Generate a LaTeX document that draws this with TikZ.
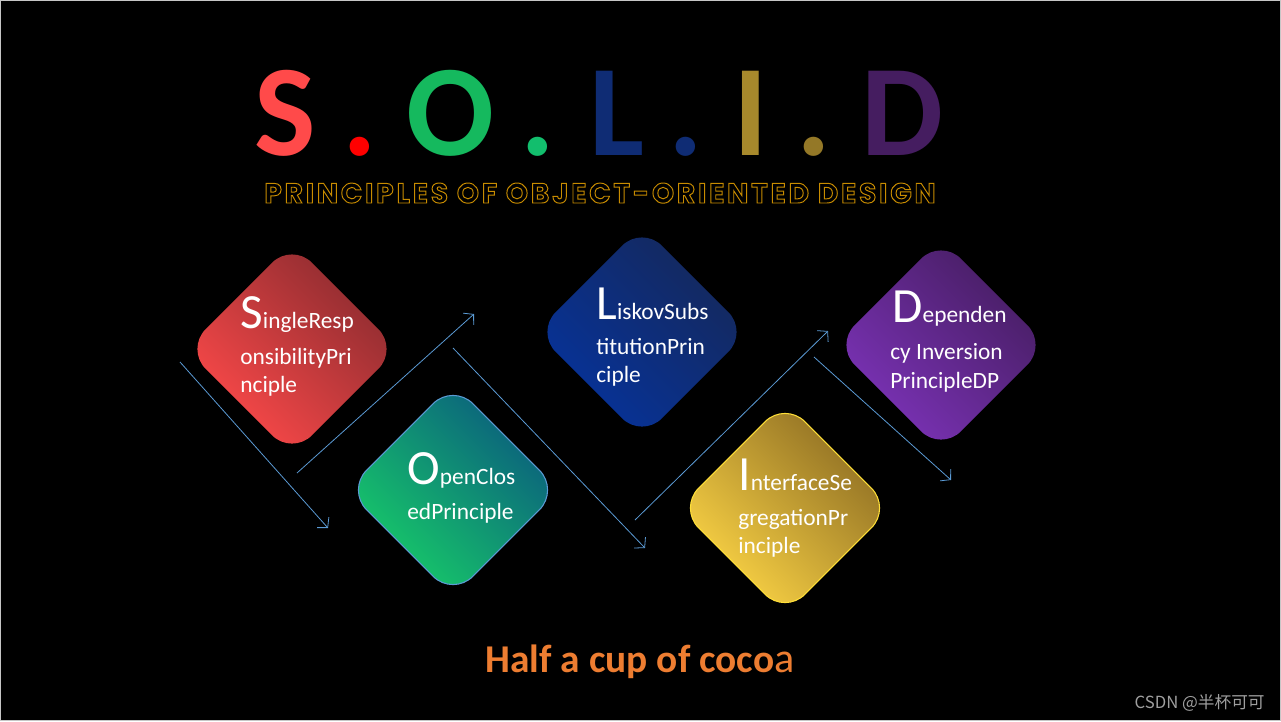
\documentclass[tikz,border=0pt]{standalone}
\usepackage{fontspec}
\setmainfont{Carlito}
\newfontfamily\designfont{Poppins}[LetterSpace=10]
\newfontfamily\cjkfont{Noto Sans CJK SC}
\usetikzlibrary{arrows.meta}

% colours of the five letters
\definecolor{sredlight}{HTML}{FF4A4A}
\definecolor{sreddark}{HTML}{8A2B2F}
\definecolor{ogreenlight}{HTML}{17CE68}
\definecolor{ogreendark}{HTML}{0A5A7E}
\definecolor{lbluelight}{HTML}{06339C}
\definecolor{lbluedark}{HTML}{15285A}
\definecolor{igoldlight}{HTML}{FFD746}
\definecolor{igolddark}{HTML}{8B6B22}
\definecolor{dpurplelight}{HTML}{7D33BA}
\definecolor{dpurpledark}{HTML}{451D60}
\definecolor{flowblue}{HTML}{5B9BD5}
\definecolor{subgold}{HTML}{C88C00}
\definecolor{cocoaorange}{HTML}{ED7D31}

\newcommand\bigletter{\fontsize{28}{28}\selectfont}
\newcommand\outlined[1]{\special{pdf:literal direct 1 Tr 0.55 w}#1\special{pdf:literal direct 0 Tr}}

\tikzset{
  tile/.style={rotate=45, minimum size=85.5pt, inner sep=0pt, rounded corners=16pt},
  tileline/.style={anchor=base west, inner sep=0pt, text=white, font=\fontsize{13.3}{15}\selectfont},
  flow/.style={draw=flowblue, line width=0.45pt, -{Straight Barb[length=4pt,width=9pt]}},
  headletter/.style={anchor=base, inner sep=0pt, font=\bfseries\fontsize{74}{74}\selectfont},
  subtitle/.style={anchor=base, inner sep=0pt, text=subgold, font=\designfont\bfseries\fontsize{16}{18}\selectfont},
  slogan/.style={anchor=base, inner sep=0pt, text=cocoaorange, font=\fontsize{22.4}{24}\selectfont},
  wmark/.style={anchor=base east, inner sep=0pt, text=gray!75, font=\cjkfont\fontsize{9.5}{11}\selectfont}
}

\begin{document}
\begin{tikzpicture}[x=0.02cm, y=-0.02cm]
    \useasboundingbox (0,0) rectangle (1281,721);
    % Background and frame
    \draw[draw=gray!45, fill=black, line width=0.6pt] (0.5,0.5) rectangle (1280.5,720.5);

    % Title letters
    \node[headletter, text=sredlight] (t-s) at (285,155) {S};
    \node[headletter, text=red] (t-d1) at (360,155) {.};
    \node[headletter, text=ogreenlight!90!black] (t-o) at (450,155) {O};
    \node[headletter, text=ogreenlight!80!teal] (t-d2) at (538,155) {.};
    \node[headletter, text=lbluedark!60!lbluelight] (t-l) at (617,155) {L};
    \node[headletter, text=lbluedark!60!lbluelight] (t-d3) at (686,155) {.};
    \node[headletter, text=igolddark!40!igoldlight!80!black] (t-i) at (751,155) {I};
    \node[headletter, text=igolddark!60!igoldlight!80!black] (t-d4) at (814,155) {.};
    \node[headletter, text=dpurpledark] (t-dd) at (902,155) {D};
    \node[subtitle] (sub) at (600,203) {\outlined{PRINCIPLES OF OBJECT-ORIENTED DESIGN}};

    % Tiles
    \node[tile, bottom color=sredlight, top color=sreddark, shading angle=-45] (srp) at (292,349) {};
    \node[tile, bottom color=ogreenlight, top color=ogreendark, shading angle=-45, draw=flowblue, line width=0.6pt] (ocp) at (453,490) {};
    \node[tile, bottom color=lbluelight, top color=lbluedark, shading angle=-45] (lsp) at (642,332) {};
    \node[tile, bottom color=igoldlight, top color=igolddark, shading angle=-45, draw=igoldlight!80!yellow, line width=0.6pt] (isp) at (785,508) {};
    \node[tile, bottom color=dpurplelight, top color=dpurpledark, shading angle=-45] (dip) at (941,345) {};

    % Tile texts
    \node[tileline] (srp-1) at (240,328) {{\bigletter S}ingleResp};
    \node[tileline] (srp-2) at (240,364) {onsibilityPri};
    \node[tileline] (srp-3) at (240,392) {nciple};
    \node[tileline] (ocp-1) at (407,484) {{\bigletter O}penClos};
    \node[tileline] (ocp-2) at (407,519) {edPrinciple};
    \node[tileline] (lsp-1) at (596,319) {{\bigletter L}iskovSubs};
    \node[tileline] (lsp-2) at (596,354) {titutionPrin};
    \node[tileline] (lsp-3) at (596,382) {ciple};
    \node[tileline] (isp-1) at (738,490) {{\bigletter I}nterfaceSe};
    \node[tileline] (isp-2) at (738,525) {gregationPr};
    \node[tileline] (isp-3) at (738,553) {inciple};
    \node[tileline] (dip-1) at (892,322) {{\bigletter D}ependen};
    \node[tileline] (dip-2) at (890,359) {cy Inversion};
    \node[tileline] (dip-3) at (890,388) {PrincipleDP};

    % Zigzag arrows
    \coordinate (f1a) at (180,362);
    \coordinate (f1b) at (328,528);
    \coordinate (f2a) at (297,473);
    \coordinate (f2b) at (474,314);
    \coordinate (f3a) at (453,348);
    \coordinate (f3b) at (645,548);
    \coordinate (f4a) at (635,520);
    \coordinate (f4b) at (828,331);
    \coordinate (f5a) at (814,357);
    \coordinate (f5b) at (951,480);
    \draw[flow] (f1a) -- (f1b);
    \draw[flow] (f2a) -- (f2b);
    \draw[flow] (f3a) -- (f3b);
    \draw[flow] (f4a) -- (f4b);
    \draw[flow] (f5a) -- (f5b);

    % Footer
    \node[slogan] (cocoa) at (640,672) {\textbf{Half a cup of coco}{\fontsize{24}{24}\selectfont a}};
    \node[wmark] (csdn) at (1265,708) {CSDN @半杯可可};
\end{tikzpicture}
\end{document}
